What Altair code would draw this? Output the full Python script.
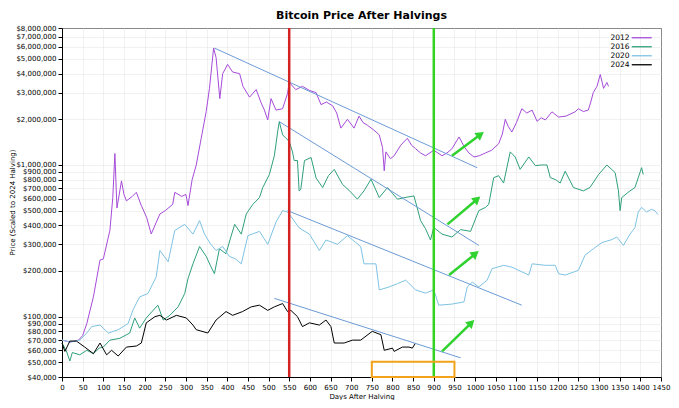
import altair as alt
import pandas as pd

years = ["2012", "2016", "2020", "2024"]
colors = ["#a64bd9", "#2f9f7c", "#7ec3e3", "#000000"]

d2012_day = [0, 20, 40, 50, 60, 76, 92, 100, 116, 123, 128, 133, 144, 150, 156, 170, 180, 192, 205, 216,
             237, 250, 268, 273, 290, 300, 305, 315, 325, 337, 349, 357, 367, 373, 382, 389, 401, 413,
             430, 438, 454, 470, 482, 490, 498, 506, 518, 534, 546, 550, 566, 582, 599, 615, 627,
             640, 655, 665, 675, 691, 707, 719, 729, 739, 755, 768, 776, 780, 784, 795, 804, 820, 836, 846, 856,
             868, 880, 900, 910, 920, 932, 944, 961, 975, 985, 997, 1010, 1025, 1040, 1057, 1066, 1073, 1080, 1089, 1100,
             1113, 1125, 1138, 1150, 1160, 1170, 1186, 1202, 1220, 1242, 1250, 1262, 1274, 1280, 1286, 1295, 1303, 1311, 1319, 1323]
d2012_price = [70e3, 68e3, 70e3, 75e3, 90e3, 135e3, 236e3, 240e3, 371e3, 612e3, 1.19e6, 520e3, 785e3, 640e3, 580e3, 620e3, 660e3, 540e3, 450e3, 351e3,
               475e3, 500e3, 550e3, 660e3, 620e3, 640e3, 540e3, 800e3, 1.0e6, 1.5e6, 2.25e6, 3.2e6, 5.9e6, 5.1e6, 2.74e6, 4.0e6, 4.6e6, 4.1e6,
               4.0e6, 3.3e6, 2.8e6, 3.14e6, 2.57e6, 2.3e6, 1.98e6, 2.74e6, 2.3e6, 2.35e6, 2.96e6, 3.5e6, 3.14e6, 3.3e6, 3.1e6, 3.0e6, 2.5e6,
               2.6e6, 2.46e6, 2.2e6, 1.75e6, 2.0e6, 1.75e6, 2.1e6, 1.9e6, 1.83e6, 1.7e6, 1.58e6, 1.3e6, 915e3, 1.22e6, 1.1e6, 1.15e6, 1.35e6, 1.5e6, 1.35e6, 1.28e6,
               1.2e6, 1.15e6, 1.25e6, 1.2e6, 1.15e6, 1.2e6, 1.28e6, 1.53e6, 1.3e6, 1.2e6, 1.13e6, 1.15e6, 1.2e6, 1.25e6, 1.38e6, 1.6e6, 2.0e6, 1.8e6, 1.65e6, 1.9e6,
               2.35e6, 2.2e6, 2.3e6, 1.94e6, 2.05e6, 1.98e6, 2.24e6, 2.07e6, 2.1e6, 2.24e6, 2.35e6, 2.25e6, 2.3e6, 2.6e6, 3.0e6, 3.3e6, 3.95e6, 3.2e6, 3.5e6, 3.3e6]

d2016_day = [0, 10, 19, 25, 43, 60, 76, 90, 100, 116, 140, 164, 176, 188, 204, 232,
             245, 261, 281, 297, 305, 317, 333, 349, 360, 369, 381, 397, 408, 418, 434, 446, 462, 478,
             486, 502, 514, 522, 526, 534, 542, 550, 558, 562, 570, 574, 578, 587, 603, 615, 631, 645, 659, 679,
             695, 715, 731, 748, 768, 788, 800, 812, 830, 852, 860, 868, 880, 892, 900, 920, 944, 965, 989, 1009,
             1025, 1033, 1045, 1057, 1069, 1085, 1097, 1109, 1130, 1146, 1160, 1174, 1182, 1195, 1206, 1218, 1238, 1262, 1278, 1299,
             1319, 1339, 1347, 1351, 1355, 1375, 1387, 1403, 1407]
d2016_price = [67e3, 60e3, 51e3, 58e3, 56e3, 60e3, 57e3, 62e3, 63e3, 70e3, 72e3, 78e3, 98e3, 84e3, 98e3, 119e3,
               95e3, 102e3, 116e3, 142e3, 178e3, 223e3, 290e3, 250e3, 215e3, 192e3, 280e3, 260e3, 330e3, 406e3, 350e3, 475e3, 550e3, 610e3,
               710e3, 865e3, 1.15e6, 1.65e6, 1.93e6, 1.58e6, 1.5e6, 1.43e6, 1.22e6, 1.07e6, 1.07e6, 675e3, 690e3, 1.07e6, 1.12e6, 820e3, 710e3, 850e3, 935e3, 745e3,
               680e3, 595e3, 675e3, 805e3, 610e3, 710e3, 650e3, 595e3, 610e3, 625e3, 520e3, 430e3, 380e3, 320e3, 387e3, 350e3, 335e3, 375e3, 365e3, 500e3,
               525e3, 550e3, 825e3, 850e3, 760e3, 1.22e6, 1.13e6, 935e3, 1.13e6, 990e3, 1.0e6, 1.0e6, 825e3, 800e3, 760e3, 910e3, 710e3, 675e3, 710e3, 865e3,
               1.0e6, 890e3, 675e3, 500e3, 610e3, 675e3, 710e3, 960e3, 865e3]

d2020_day = [0, 20, 43, 60, 72, 92, 112, 136, 160, 172, 188, 208, 228, 237, 257, 273, 297, 317, 333, 345,
             360, 373, 389, 405, 420, 434, 450, 478, 498, 518, 534, 546, 550, 574, 599, 623, 639, 667, 691, 710,
             723, 731, 760, 768, 792, 812, 832, 856, 880, 900, 912, 944, 973, 981, 993, 1009, 1029, 1041, 1069, 1089,
             1130, 1138, 1170, 1194, 1202, 1218, 1250, 1266, 1286, 1307, 1331, 1343, 1359, 1375, 1387, 1395, 1403, 1415, 1427, 1435,
             1443]
d2020_price = [70e3, 68e3, 70e3, 78e3, 86e3, 88e3, 78e3, 82e3, 90e3, 111e3, 135e3, 142e3, 183e3, 273e3, 230e3, 370e3, 406e3, 350e3, 430e3, 350e3,
               300e3, 273e3, 290e3, 250e3, 240e3, 223e3, 342e3, 365e3, 300e3, 420e3, 500e3, 490e3, 475e3, 385e3, 350e3, 273e3, 320e3, 300e3, 342e3, 310e3,
               290e3, 223e3, 223e3, 150e3, 157e3, 165e3, 174e3, 150e3, 143e3, 150e3, 119e3, 121e3, 125e3, 157e3, 169e3, 157e3, 174e3, 207e3, 218e3, 212e3,
               188e3, 223e3, 218e3, 218e3, 192e3, 188e3, 202e3, 254e3, 280e3, 308e3, 322e3, 335e3, 295e3, 350e3, 387e3, 490e3, 525e3, 490e3, 510e3, 500e3,
               470e3]

d2024_day = [0, 7, 19, 35, 55, 76, 92, 108, 120, 136, 156, 180, 192, 204, 225, 237, 253, 277, 301, 317,
             325, 353, 373, 397, 413, 437, 458, 478, 498, 514, 534, 546, 554, 570, 582, 599, 623, 639, 651,
             659, 683, 703, 723, 751, 772, 780, 800, 804, 824, 840, 848, 856]
d2024_price = [67e3, 59e3, 69e3, 69e3, 63e3, 57e3, 67e3, 56e3, 60e3, 55e3, 63e3, 64e3, 67e3, 91e3, 100e3, 102e3, 95e3, 102e3, 98e3, 88e3,
               82e3, 78e3, 95e3, 108e3, 102e3, 108e3, 116e3, 119e3, 110e3, 116e3, 122e3, 108e3, 110e3, 100e3, 86e3, 91e3, 88e3, 95e3, 86e3,
               67e3, 67e3, 70e3, 70e3, 80e3, 76e3, 60e3, 62e3, 59e3, 63e3, 63e3, 62e3, 67e3]

# trend lines (start day, start price, end day, end price)
trend_x1 = [369, 526, 546, 514]
trend_y1 = [5.9e6, 1.93e6, 500e3, 132e3]
trend_x2 = [1005, 1009, 1113, 965]
trend_y2 = [959e3, 295e3, 119e3, 53.5e3]

# green arrows
arrow_x1 = [944, 933, 937, 920]
arrow_y1 = [1.15e6, 406e3, 188e3, 59e3]
arrow_x2 = [1013, 1005, 1001, 991]
arrow_y2 = [1.59e6, 595e3, 260e3, 91e3]
arrow_angle = [54, 50, 51, 46]

# vertical markers and highlighted window
vlines_day = [550, 900]
vlines_color = ["#d42222", "#33d41f"]
box_x1, box_x2, box_y1, box_y2 = [750], [950], [40000], [50500]

x_ticks = list(range(0, 1451, 50))
y_ticks = [40000, 50000, 60000, 70000, 80000, 90000, 100000, 200000, 300000, 400000, 500000,
           600000, 700000, 800000, 900000, 1000000, 2000000, 3000000, 4000000, 5000000,
           6000000, 7000000, 8000000]

rows = []
for yr, days, prices in [("2012", d2012_day, d2012_price), ("2016", d2016_day, d2016_price),
                         ("2020", d2020_day, d2020_price), ("2024", d2024_day, d2024_price)]:
    for d, p in zip(days, prices):
        rows.append({"series": yr, "day": d, "price": p})
df = pd.DataFrame(rows)

trend_df = pd.DataFrame({"x1": trend_x1, "y1": trend_y1, "x2": trend_x2, "y2": trend_y2})
arrow_df = pd.DataFrame({"x1": arrow_x1, "y1": arrow_y1, "x2": arrow_x2, "y2": arrow_y2, "angle": arrow_angle})
vline_df = pd.DataFrame({"day": vlines_day, "color": vlines_color})
box_df = pd.DataFrame({"x1": box_x1, "x2": box_x2, "y1": box_y1, "y2": box_y2})

FONT = "DejaVu Sans"
x_scale = alt.Scale(domain=[0, 1450], nice=False)
y_scale = alt.Scale(type="log", domain=[40000, 8000000], nice=False)

x_axis = alt.Axis(values=x_ticks, format="d", title="Days After Halving", labelFlush=False,
                  labelOverlap=False, titlePadding=2)
y_axis = alt.Axis(values=y_ticks, format="$,.0f", title="Price (Scaled to 2024 Halving)",
                  labelOverlap=False, titleX=-50, titleY=174, titleAngle=-90,
                  titleBaseline="middle", titleAlign="center")


def X(field):
    return alt.X(field, scale=x_scale, axis=x_axis, title="Days After Halving")


def Y(field):
    return alt.Y(field, scale=y_scale, axis=y_axis, title="Price (Scaled to 2024 Halving)")


lines = alt.Chart(df).mark_line(strokeWidth=1).encode(
    x=X("day:Q"),
    y=Y("price:Q"),
    color=alt.Color("series:N", scale=alt.Scale(domain=years, range=colors),
                    legend=alt.Legend(title=None, orient="top-right", symbolType="M-4,0H4",
                                      symbolSize=25, symbolStrokeWidth=1.3, labelAlign="right",
                                      labelOffset={"expr": "-16"}, labelFont=FONT, labelFontSize=7.5,
                                      labelColor="black", rowPadding=0, offset=6, padding=0)),
    strokeWidth=alt.condition("datum.series == '2024'", alt.value(1.6), alt.value(1)),
)

trends = alt.Chart(trend_df).mark_rule(color="#6c9bd6", strokeWidth=1).encode(
    x=X("x1:Q"), y=Y("y1:Q"), x2="x2:Q", y2="y2:Q")

vlines = alt.Chart(vline_df).mark_rule(strokeWidth=2.5).encode(
    x=X("day:Q"), color=alt.Color("color:N", scale=None))

box = alt.Chart(box_df).mark_rect(fillOpacity=0, stroke="#f2a31b", strokeWidth=2).encode(
    x=X("x1:Q"), x2="x2:Q", y=Y("y1:Q"), y2="y2:Q")

arrow_lines = alt.Chart(arrow_df).mark_rule(color="#2fd22f", strokeWidth=2.5).encode(
    x=X("x1:Q"), y=Y("y1:Q"), x2="x2:Q", y2="y2:Q")

arrow_heads = alt.Chart(arrow_df).mark_point(shape="triangle-up", filled=True, color="#2fd22f",
                                              size=90, opacity=1).encode(
    x=X("x2:Q"), y=Y("y2:Q"), angle=alt.Angle("angle:Q", scale=None))

chart = alt.layer(lines, trends, vlines, box, arrow_lines, arrow_heads).properties(
    width=599, height=349,
    title=alt.TitleParams("Bitcoin Price After Halvings", font=FONT, fontSize=11, fontWeight="bold",
                          anchor="middle", offset=3, color="black"),
    autosize=alt.AutoSizeParams(type="none"),
    padding={"left": 54, "top": 20, "right": 10, "bottom": 23},
).configure_view(stroke="black", strokeWidth=1).configure_axis(
    labelFont=FONT, titleFont=FONT, labelFontSize=7, titleFontSize=7, titleFontWeight="normal",
    gridColor="#e8e8e8", gridWidth=0.6, domainColor="black", tickColor="black",
    labelColor="black", titleColor="black", tickSize=4, labelPadding=2,
)

chart.save("out.html", embed_options={"renderer": "svg", "actions": False})
